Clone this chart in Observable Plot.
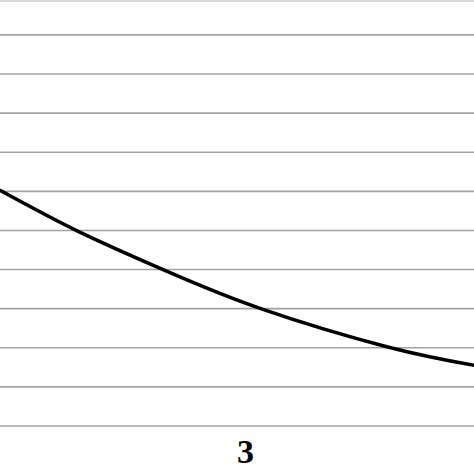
<!DOCTYPE html>
<html>
<head>
<meta charset="utf-8">
<script src="https://cdn.jsdelivr.net/npm/d3@7"></script>
<script src="https://cdn.jsdelivr.net/npm/@observablehq/plot@0.6"></script>
<style>
  html, body { margin: 0; padding: 0; background: #fff; }
</style>
</head>
<body>
<div id="chart"></div>
<script>
// Data
const xValues = [2.483, 2.648, 2.835, 3.032, 3.3, 3.483];
const yValues = [6.02, 4.97, 3.95, 3.0, 2.02, 1.55];
const gridValues = [0, 1, 2, 3, 4, 5, 6, 7, 8, 9, 10];
const xTickLabels = [3];
const xDomain = [2.483, 3.483];
const yDomain = [0, 10.88];

const series = xValues.map((x, i) => ({x, y: yValues[i]}));

const chart = Plot.plot({
  width: 474,
  height: 474,
  marginTop: 0,
  marginLeft: 0,
  marginRight: 0,
  marginBottom: 48.5,
  style: {
    background: "#fff",
    fontFamily: "'Liberation Serif', 'DejaVu Serif', serif",
    color: "#000"
  },
  x: {domain: xDomain},
  y: {domain: yDomain, axis: null},
  marks: [
    Plot.ruleY([yDomain[1]], {stroke: "#d9d9d9", strokeWidth: 3}),
    Plot.ruleY(gridValues, {stroke: "#a3a3a3", strokeWidth: 1.6}),
    Plot.line(series, {x: "x", y: "y", curve: "natural", stroke: "#000", strokeWidth: 3.5}),
    Plot.axisX(xTickLabels, {
      anchor: "bottom",
      tickSize: 0,
      tickPadding: 13,
      fontSize: 34,
      fontWeight: "bold",
      fill: "#000",
      tickFormat: d => String(d),
      label: null
    })
  ]
});
document.getElementById("chart").appendChild(chart);
</script>
</body>
</html>
